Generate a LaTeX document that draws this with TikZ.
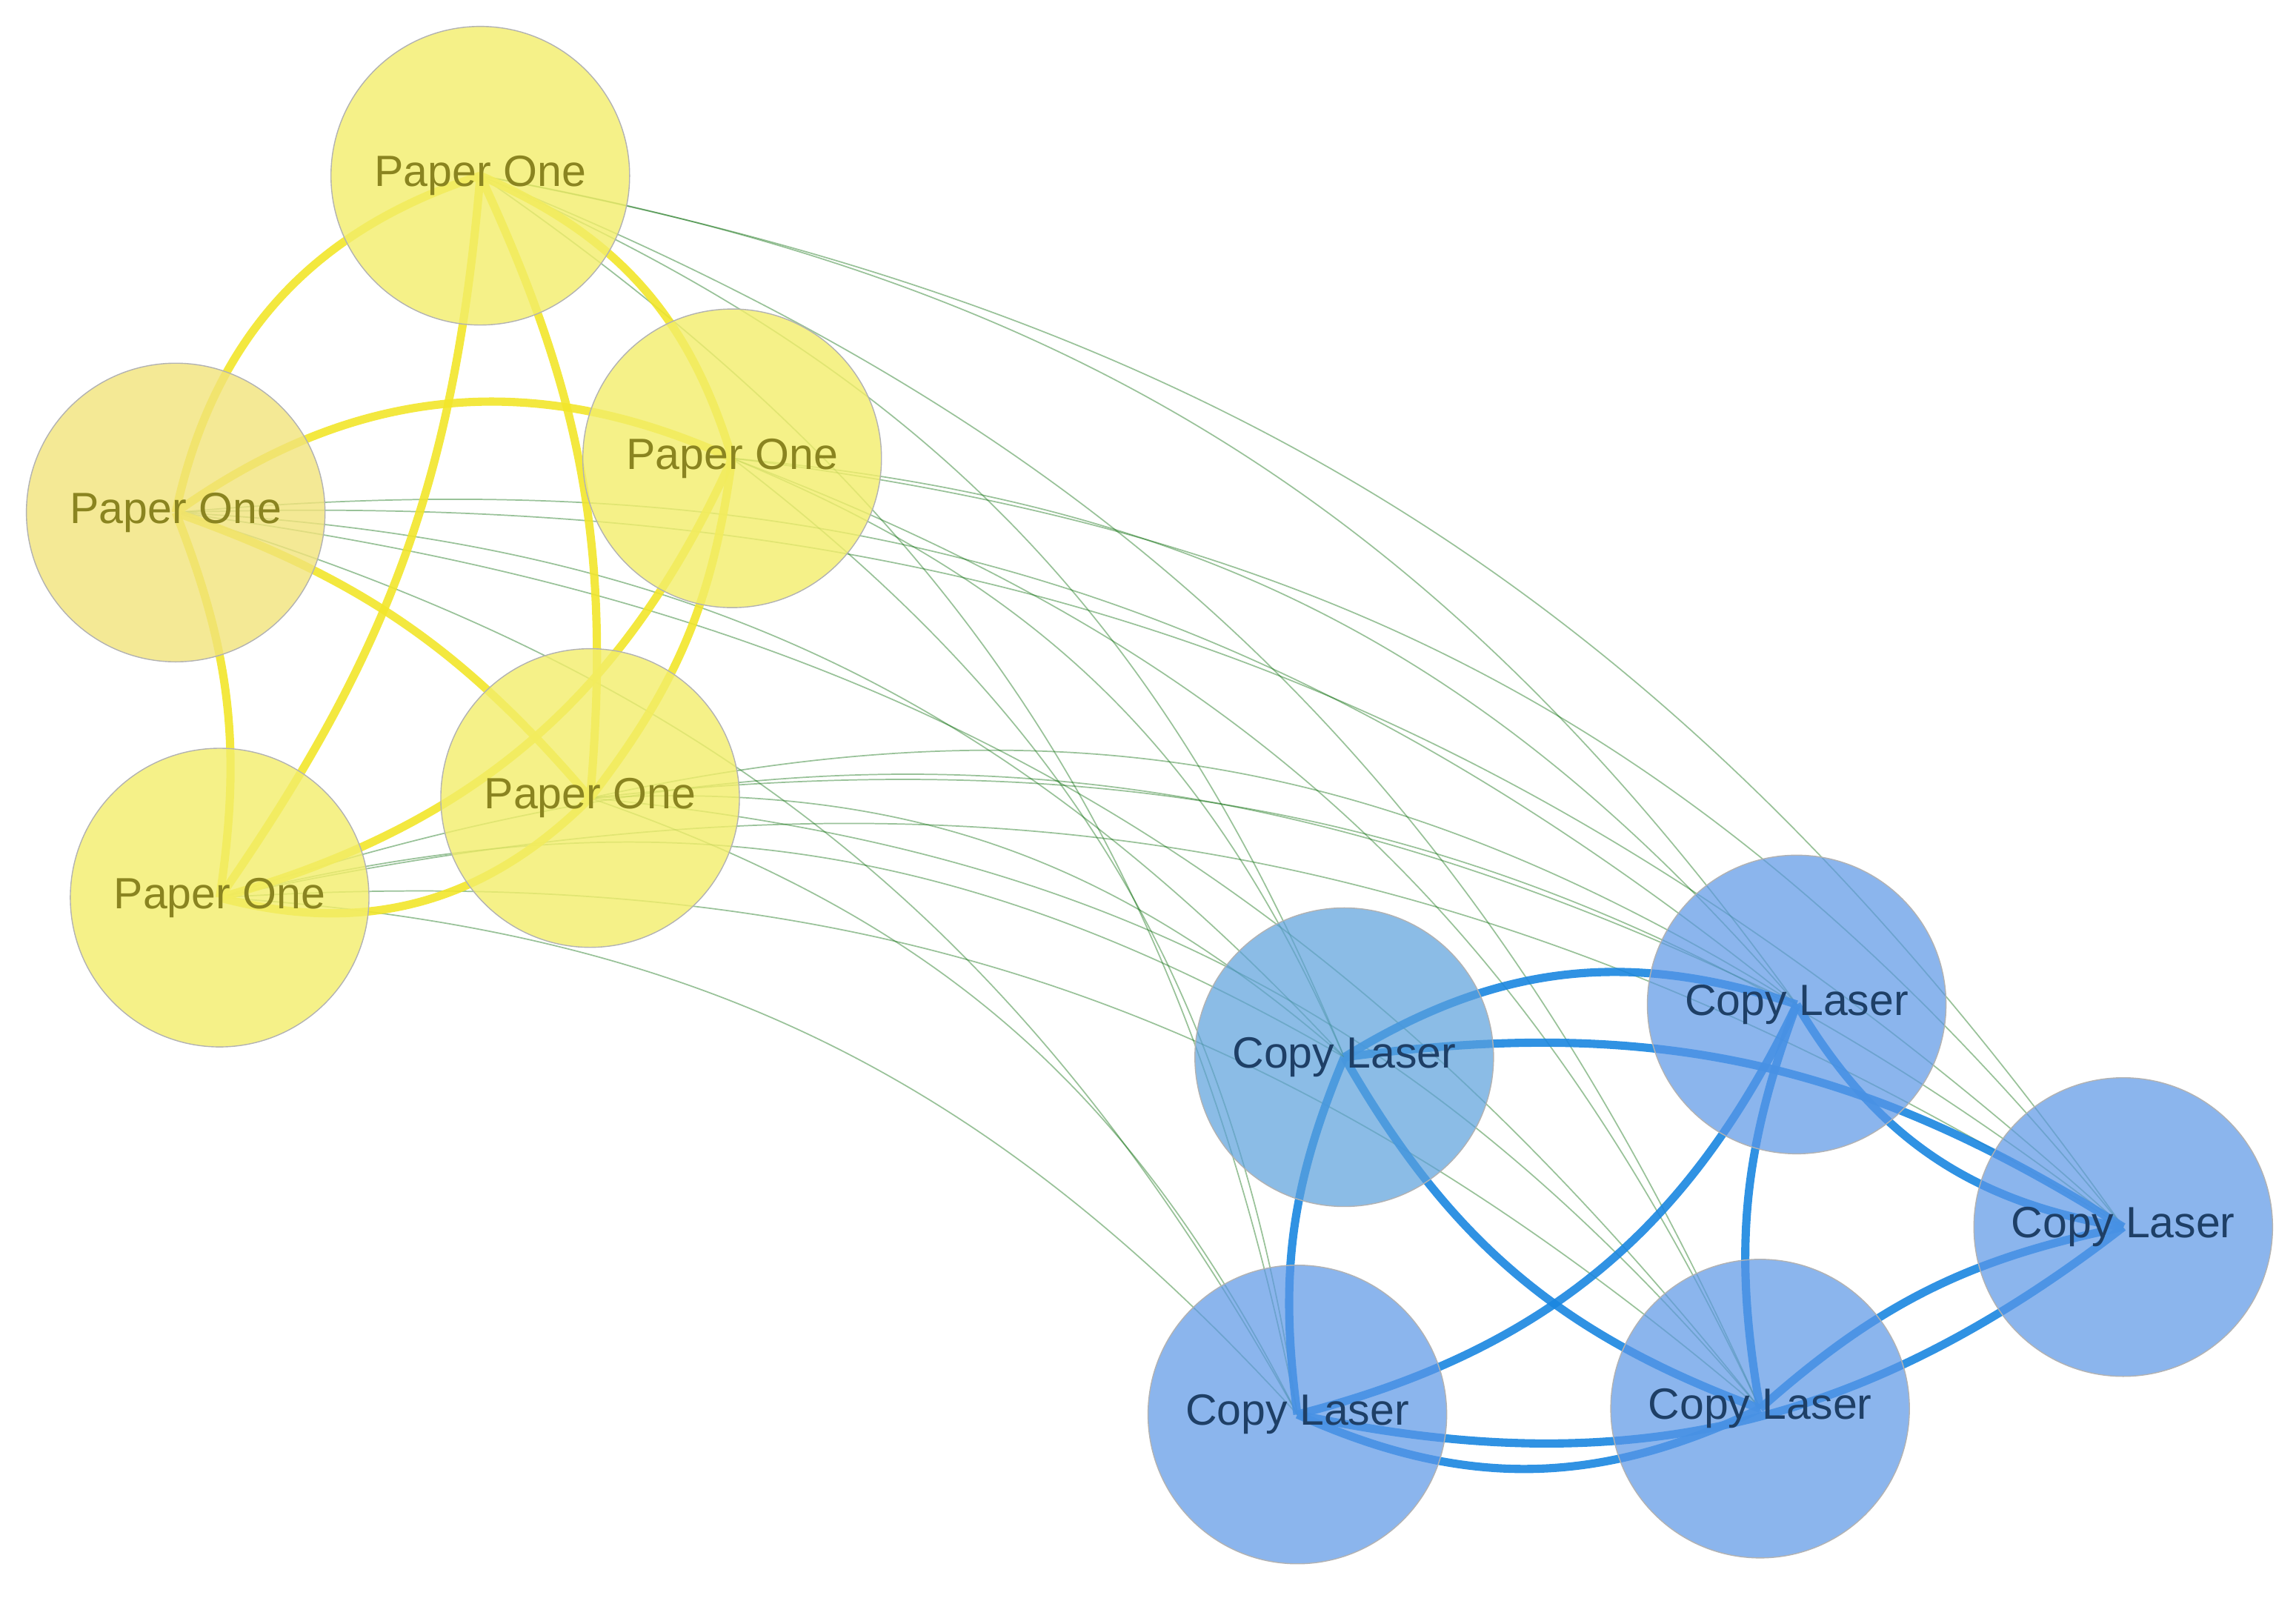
\documentclass[tikz,border=0pt]{standalone}
\usepackage{fontspec}
\setmainfont{Liberation Sans}
\definecolor{pfill}{HTML}{F3EE6A}
\definecolor{pfill2}{HTML}{F1E37A}
\definecolor{cfill}{HTML}{5A96E6}
\definecolor{cfill1}{HTML}{5A9FDC}
\definecolor{ptext}{HTML}{8A8420}
\definecolor{ctext}{HTML}{1E3F66}
\definecolor{yline}{HTML}{F2E62A}
\definecolor{bline}{HTML}{1A86E0}
\begin{document}
\begin{tikzpicture}[x=0.02cm,y=-0.02cm,
  pnode/.style={circle,inner sep=0pt,minimum size=4.08cm,fill=pfill,fill opacity=0.8,draw=gray!60,text opacity=1,text=ptext,font=\fontsize{17}{19}\selectfont},
  cnode/.style={circle,inner sep=0pt,minimum size=4.08cm,fill=cfill,fill opacity=0.7,draw=gray!60,text opacity=1,text=ctext,font=\fontsize{17}{19}\selectfont},
  yedge/.style={draw=yline,line width=3.2pt,opacity=0.9},
  bedge/.style={draw=bline,line width=3.2pt,opacity=0.9},
  gedge/.style={draw=green!40!black,line width=0.5pt,opacity=0.4}]
\useasboundingbox (0,0) rectangle (1568,1093);
\coordinate (p1) at (328,120);
\coordinate (p2) at (120,350);
\coordinate (p3) at (500,313);
\coordinate (p4) at (403,545);
\coordinate (p5) at (150,613);
\coordinate (c1) at (918,722);
\coordinate (c2) at (1227,686);
\coordinate (c3) at (1450,838);
\coordinate (c4) at (886,966);
\coordinate (c5) at (1202,962);
\foreach \p in {p1,p2,p3,p4,p5}{\foreach \c in {c1,c2,c3,c4,c5}{\draw[gedge] (\p) to[bend left=22] (\c);}}
\draw[yedge] (p1) to[bend right=30] (p2);
\draw[yedge] (p1) to[bend left=25] (p3);
\draw[yedge] (p1) to[bend left=15] (p4);
\draw[yedge] (p1) to[bend left=15] (p5);
\draw[yedge] (p2) to[bend left=30] (p3);
\draw[yedge] (p2) to[bend left=15] (p4);
\draw[yedge] (p2) to[bend left=15] (p5);
\draw[yedge] (p3) to[bend left=15] (p4);
\draw[yedge] (p3) to[bend left=25] (p5);
\draw[yedge] (p4) to[bend left=30] (p5);
\draw[bedge] (c1) to[bend left=25] (c2);
\draw[bedge] (c1) to[bend left=20] (c3);
\draw[bedge] (c1) to[bend right=15] (c4);
\draw[bedge] (c1) to[bend right=20] (c5);
\draw[bedge] (c2) to[bend right=25] (c3);
\draw[bedge] (c2) to[bend left=25] (c4);
\draw[bedge] (c2) to[bend right=15] (c5);
\draw[bedge] (c3) to[bend left=25] (c4);
\draw[bedge] (c3) to[bend right=15] (c5);
\draw[bedge] (c4) to[bend right=25] (c5);
\node[pnode] (n1) at (p1) {Paper One};
\node[pnode,fill=pfill2] (n2) at (p2) {Paper One};
\node[pnode] (n3) at (p3) {Paper One};
\node[pnode] (n4) at (p4) {Paper One};
\node[pnode] (n5) at (p5) {Paper One};
\node[cnode,fill=cfill1] (m1) at (c1) {Copy Laser};
\node[cnode] (m2) at (c2) {Copy Laser};
\node[cnode] (m3) at (c3) {Copy Laser};
\node[cnode] (m4) at (c4) {Copy Laser};
\node[cnode] (m5) at (c5) {Copy Laser};
\end{tikzpicture}
\end{document}
